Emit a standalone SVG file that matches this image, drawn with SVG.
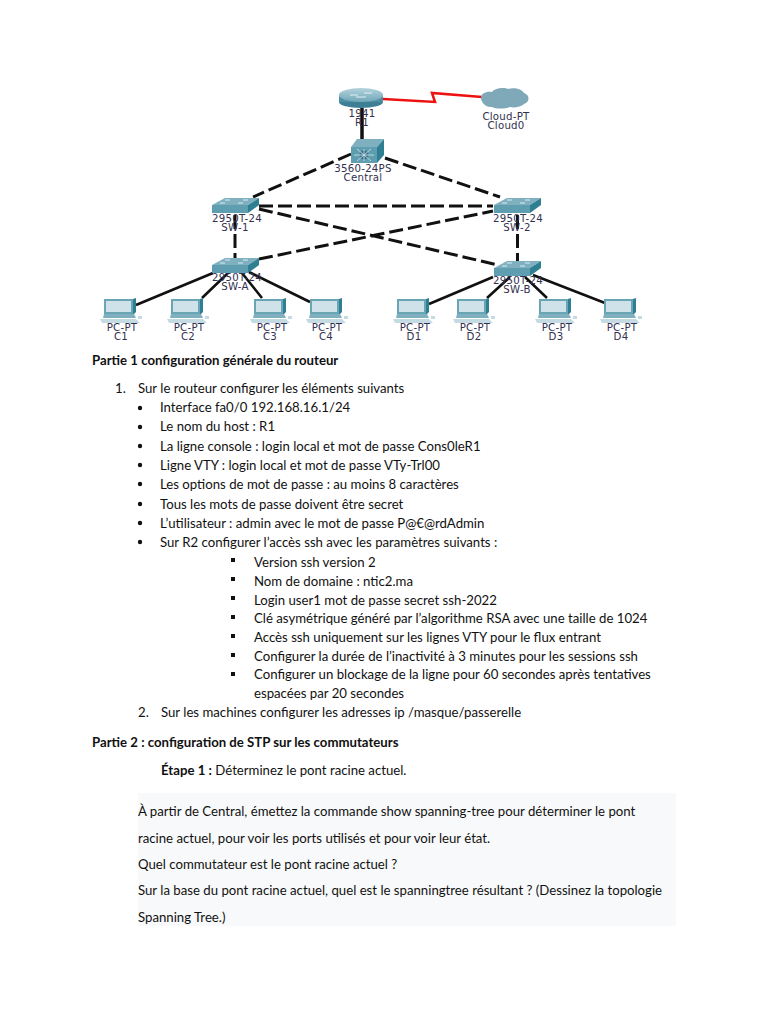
<svg xmlns="http://www.w3.org/2000/svg" width="768" height="1024" viewBox="0 0 768 1024">
<style>
.t{font-family:"Lato","Carlito","Liberation Sans",sans-serif;font-size:13.2px;fill:#111}
.b{font-weight:700}
.n{font-family:"DejaVu Sans","Liberation Sans",sans-serif;font-size:10.2px;fill:#33304f;text-anchor:middle;letter-spacing:.25px}
.d{fill:none;stroke:#111;stroke-width:3;stroke-dasharray:14 5}
.s{fill:none;stroke:#111;stroke-width:2.6}
</style>
<defs>
<linearGradient id="rt" x1="0" x2="0" y1="0" y2="1"><stop offset="0" stop-color="#b4d3dd"/><stop offset="1" stop-color="#6fa7b8"/></linearGradient>
<g id="sw">
<polygon points="1,8 14,1 48,1 37,8" fill="#7fb0bf"/>
<polygon points="37,8 48,1 48,8 37,16" fill="#2f7f93"/>
<rect x="1" y="8" width="36" height="8" fill="#5f9eb0"/>
<path d="M14 3h5M32 3h5M9 6h5M27 6h5" stroke="#d8ecf2" stroke-width="1"/>
</g>
<g id="pc">
<polygon points="4,1 33,1 33,16 4,16" fill="#6aa5b6"/>
<polygon points="33,1 36,0 36,14 33,17" fill="#2f7f93"/>
<rect x="6" y="3" width="25" height="11" fill="#cfe2ea"/>
<polygon points="4,16 34,16 36,20 3,20" fill="#7fb0bf"/>
<polygon points="0,21 36,21 40,25 2,25" fill="#c4dbe3"/>
<rect x="38" y="18" width="4" height="3" fill="#c4dbe3"/>
</g>
</defs>
<rect width="768" height="1024" fill="#fff"/>
<rect x="138" y="793" width="538" height="133" fill="#f8f9fa"/>
<g id="connectors">
<path d="M362 108V140" class="s" style="stroke-width:3.500"/>
<path d="M383 99L435 102L432 93L482 97" fill="none" stroke="#ee1111" stroke-width="2.500"/>
<path d="M351 154L253 197M385 158L500 197M259 206L493 206M259 209L498 265M259 259L493 211M235 215V258M517.500 215V261" class="d"/>
<path d="M213 273L136 305M228 273L202 298M242 273L262 298M249 272L310 302M493 277L429 304M510 277L487 298M525 277L547 298M533 275L605 303" class="s"/>
</g>
<g id="router-R1"><ellipse cx="361" cy="102" rx="22" ry="6" fill="#3f7f95"/><rect x="339" y="95" width="44" height="7" fill="#4f8fa3"/><ellipse cx="361" cy="95" rx="22" ry="7" fill="url(#rt)"/><path d="M350 95h8M364 93h8M356 97h10" stroke="#e3f0f4"/><text class="n" x="362" y="117">1941</text><text class="n" x="362" y="126">R1</text></g>
<g id="cloud-Cloud0"><path d="M481 98c0-5 6-7 11-6 3-4 12-5 16-3 6-2 14 0 16 4 6 2 6 9 0 11-3 3-10 4-14 3-5 2-14 2-18 0-6 1-11-5-11-9z" fill="#7fa8b8"/><text class="n" x="506" y="120">Cloud-PT</text><text class="n" x="506" y="129">Cloud0</text></g>
<g id="switch-Central"><polygon points="351,147 357,139 384,139 377,147" fill="#7fb0bf"/><polygon points="377,147 384,139 384,155 377,163" fill="#2f7f93"/><rect x="351" y="147" width="26" height="16" fill="#5f9eb0"/><circle cx="364" cy="155" r="4.500" fill="#3a6f87"/><path d="M354 155h20M364 149v12M357 149l14 12M371 149l-14 12" stroke="#cfe6ee" stroke-width=".8"/><text class="n" x="363" y="172">3560-24PS</text><text class="n" x="363" y="181">Central</text></g>
<g id="switch-SW-1"><use href="#sw" x="211" y="197"/><text class="n" x="237" y="222">2950T-24</text><text class="n" x="235" y="231">SW-1</text></g>
<g id="switch-SW-2"><use href="#sw" x="493" y="197"/><text class="n" x="518" y="222">2950T-24</text><text class="n" x="517" y="231">SW-2</text></g>
<g id="switch-SW-A"><use href="#sw" x="211" y="257"/><text class="n" x="237" y="281">2950T-24</text><text class="n" x="235" y="290">SW-A</text></g>
<g id="switch-SW-B"><use href="#sw" x="493" y="260"/><text class="n" x="518" y="284">2950T-24</text><text class="n" x="517" y="293">SW-B</text></g>
<g id="pc-C1"><use href="#pc" x="100" y="298"/><text class="n" x="122" y="331">PC-PT</text><text class="n" x="121" y="340">C1</text></g>
<g id="pc-C2"><use href="#pc" x="167" y="298"/><text class="n" x="189" y="331">PC-PT</text><text class="n" x="188" y="340">C2</text></g>
<g id="pc-C3"><use href="#pc" x="250" y="298"/><text class="n" x="272" y="331">PC-PT</text><text class="n" x="270" y="340">C3</text></g>
<g id="pc-C4"><use href="#pc" x="306" y="298"/><text class="n" x="327" y="331">PC-PT</text><text class="n" x="326" y="340">C4</text></g>
<g id="pc-D1"><use href="#pc" x="393" y="298"/><text class="n" x="415" y="331">PC-PT</text><text class="n" x="414" y="340">D1</text></g>
<g id="pc-D2"><use href="#pc" x="453" y="298"/><text class="n" x="475" y="331">PC-PT</text><text class="n" x="474" y="340">D2</text></g>
<g id="pc-D3"><use href="#pc" x="535" y="298"/><text class="n" x="557" y="331">PC-PT</text><text class="n" x="556" y="340">D3</text></g>
<g id="pc-D4"><use href="#pc" x="600" y="298"/><text class="n" x="622" y="331">PC-PT</text><text class="n" x="621" y="340">D4</text></g>
<text class="t b" x="92" y="365">Partie 1 configuration générale du routeur</text>
<text class="t" x="115" y="392.500">1.</text><text class="t" x="138" y="392.500">Sur le routeur configurer les éléments suivants</text>
<g fill="#111"><circle cx="140" cy="408" r="2.200"/><circle cx="140" cy="427" r="2.200"/><circle cx="140" cy="446" r="2.200"/><circle cx="140" cy="465" r="2.200"/><circle cx="140" cy="484" r="2.200"/><circle cx="140" cy="504" r="2.200"/><circle cx="140" cy="523" r="2.200"/><circle cx="140" cy="542" r="2.200"/></g>
<text class="t" x="160" y="412">Interface fa0/0 192.168.16.1/24</text>
<text class="t" x="160" y="431">Le nom du host : R1</text>
<text class="t" x="160" y="451">La ligne console : login local et mot de passe Cons0leR1</text>
<text class="t" x="160" y="470">Ligne VTY : login local et mot de passe VTy-Trl00</text>
<text class="t" x="160" y="489">Les options de mot de passe : au moins 8 caractères</text>
<text class="t" x="160" y="509">Tous les mots de passe doivent être secret</text>
<text class="t" x="160" y="528">L’utilisateur : admin avec le mot de passe P@€@rdAdmin</text>
<text class="t" x="160" y="547">Sur R2 configurer l’accès ssh avec les paramètres suivants :</text>
<g fill="#111"><rect x="231" y="558" width="4" height="4"/><rect x="231" y="577" width="4" height="4"/><rect x="231" y="596" width="4" height="4"/><rect x="231" y="615" width="4" height="4"/><rect x="231" y="634" width="4" height="4"/><rect x="231" y="653" width="4" height="4"/><rect x="231" y="672" width="4" height="4"/></g>
<text class="t" x="254" y="567">Version ssh version 2</text>
<text class="t" x="254" y="586">Nom de domaine : ntic2.ma</text>
<text class="t" x="254" y="605">Login user1 mot de passe secret ssh-2022</text>
<text class="t" x="254" y="623">Clé asymétrique généré par l’algorithme RSA avec une taille de 1024</text>
<text class="t" x="254" y="642">Accès ssh uniquement sur les lignes VTY pour le flux entrant</text>
<text class="t" x="254" y="661">Configurer la durée de l’inactivité à 3 minutes pour les sessions ssh</text>
<text class="t" x="254" y="679">Configurer un blockage de la ligne pour 60 secondes après tentatives</text>
<text class="t" x="254" y="698">espacées par 20 secondes</text>
<text class="t" x="138" y="717">2.</text>
<text class="t" x="161" y="717">Sur les machines configurer les adresses ip /masque/passerelle</text>
<text class="t b" x="92" y="747">Partie 2 : configuration de STP sur les commutateurs</text>
<text class="t" x="161" y="775"><tspan class="b">Étape 1 :</tspan> Déterminez le pont racine actuel.</text>
<text class="t" x="138" y="816">À partir de Central, émettez la commande show spanning-tree pour déterminer le pont</text>
<text class="t" x="138" y="843">racine actuel, pour voir les ports utilisés et pour voir leur état.</text>
<text class="t" x="138" y="869">Quel commutateur est le pont racine actuel ?</text>
<text class="t" x="138" y="895">Sur la base du pont racine actuel, quel est le spanningtree résultant ? (Dessinez la topologie</text>
<text class="t" x="138" y="922">Spanning Tree.)</text>
</svg>
